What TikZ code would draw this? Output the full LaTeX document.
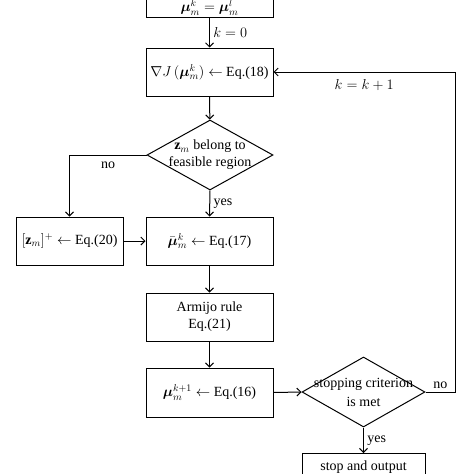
\documentclass[tikz,border=0pt]{standalone}
\usepackage{amsmath}
\usepackage{amssymb}
\usepackage{fontspec}
\setmainfont{Liberation Serif}
\usepackage{tikz}
\usetikzlibrary{shapes.geometric, arrows.meta}
\tikzset{
    flow-box/.style = {draw, line width=1pt, rectangle, minimum width=127pt, minimum height=48pt, align=center, inner sep=2pt},
    flow-decision/.style = {draw, line width=1pt, diamond, minimum width=126pt, minimum height=70pt, inner sep=0pt},
    flow-arrow/.style = {-{Straight Barb[length=4pt, width=8pt]}, line width=1pt},
    flow-label/.style = {font=\fontsize{14}{16}\selectfont},
}

\begin{document}
\begin{tikzpicture}[x=1pt, y=-1pt, font=\fontsize{14}{17}\selectfont]
\useasboundingbox (0,0) rectangle (474,474);
\clip (0,0) rectangle (474,474);
\node [flow-box, anchor=south, text height=40pt, text depth=3pt, inner ysep=3pt] (init) at (209.5,18) {$\boldsymbol{\mu}_m^k = \boldsymbol{\mu}_m^l$};
\node [flow-box] (grad) at (209.5,72) {$\nabla J\,(\boldsymbol{\mu}_m^k) \leftarrow$ Eq.(18)};
\node [flow-decision, label={[align=center, font=\fontsize{14}{17}\selectfont]center:$\mathbf{z}_m$ belong to\\feasible region}] (feas) at (210,155) {};
\node [flow-box, minimum width=107pt] (proj) at (69.5,241) {$[\mathbf{z}_m]^+ \leftarrow$ Eq.(20)};
\node [flow-box] (mubar) at (209.5,241) {$\bar{\boldsymbol{\mu}}_m^k \leftarrow$ Eq.(17)};
\node [flow-box] (armijo) at (209.5,317) {Armijo rule\\Eq.(21)};
\node [flow-box, minimum height=49pt] (update) at (209.5,392.5) {$\boldsymbol{\mu}_m^{k+1} \leftarrow$ Eq.(16)};
\node [flow-decision, minimum width=123pt, label={[align=center, font=\fontsize{14}{19}\selectfont]center:stopping criterion\\is met}] (stop) at (363.5,392) {};
\node [flow-box, minimum width=123pt, anchor=north, text height=10pt, text depth=40pt, inner ysep=7pt] (out) at (363.5,453) {stop and output};
\coordinate (back) at (455,72);

\draw [flow-arrow] (init) -- node[right, flow-label] {$k=0$} (grad);
\draw [flow-arrow] (grad) -- (feas);
\draw [flow-arrow] (feas.west) -| node[pos=0.25, below=3pt, flow-label] {no} (proj.north);
\draw [flow-arrow] (feas.south) -- node[right, flow-label] {yes} (mubar.north);
\draw [flow-arrow] (proj) -- (mubar);
\draw [flow-arrow] (mubar) -- (armijo);
\draw [flow-arrow] (armijo) -- (update);
\draw [flow-arrow] (update.east) -- (stop.west);
\draw [flow-arrow] (stop.east) -| node[pos=0.25, above, flow-label] {no} (back) -- node[below=4pt, flow-label] {$k=k+1$} (grad.east);
\draw [flow-arrow] (stop.south) -- node[right, flow-label] {yes} (out.north);
\end{tikzpicture}
\end{document}
